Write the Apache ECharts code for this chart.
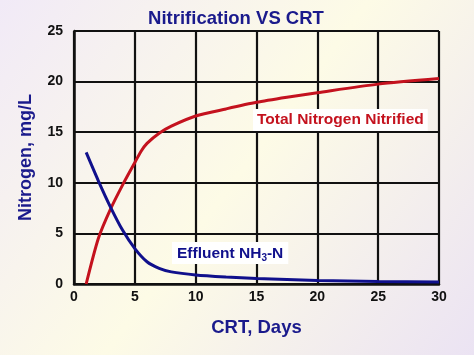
<!DOCTYPE html>
<html><head><meta charset="utf-8">
<script src="https://cdn.jsdelivr.net/npm/echarts@6/dist/echarts.min.js"></script>
<style>html,body{margin:0;padding:0;}#c{width:474px;height:355px;}</style>
</head><body><div id="c"></div>
<script>
const xTicks = [0, 5, 10, 15, 20, 25, 30];
const yTicks = [0, 5, 10, 15, 20, 25];
const crtNitrified = [1, 2, 3, 4, 5, 5.5, 6, 7, 8, 10, 12.5, 15, 17.5, 20, 25, 30];
const totalNitrified = [0, 4.5, 7.4, 9.8, 12.0, 13.1, 13.9, 14.9, 15.6, 16.6, 17.3, 17.95, 18.45, 18.9, 19.75, 20.3];
const crtEffluent = [1, 2, 3, 4, 5, 6, 7, 8, 10, 12.5, 15, 20, 25, 30];
const effluentNH3 = [13.0, 10.2, 7.6, 5.3, 3.5, 2.2, 1.55, 1.2, 0.9, 0.7, 0.55, 0.35, 0.25, 0.2];

const FONT = '"Liberation Sans", Arial, sans-serif';
const RED = '#c4121e';
const BLUE = '#10108c';
const chart = echarts.init(document.getElementById('c'));
chart.setOption({
  animation: false,
  backgroundColor: new echarts.graphic.LinearGradient(0, 0, 1, 1, [
    {offset: 0, color: '#f1eaf7'},
    {offset: 0.5, color: '#fdfbe6'},
    {offset: 1, color: '#ebe3f3'}
  ]),
  textStyle: {fontFamily: FONT},
  title: {
    text: 'Nitrification VS CRT', left: 231, top: 4, textAlign: 'center',
    textStyle: {color: '#1a1a8c', fontSize: 18.5, fontWeight: 'bold', fontFamily: FONT}
  },
  grid: {left: 74, right: 35, top: 31, bottom: 71, containLabel: false},
  xAxis: {
    type: 'value', min: 0, max: 30, interval: 5,
    name: 'CRT, Days', nameLocation: 'middle', nameGap: 34,
    nameTextStyle: {color: '#1a1a8c', fontSize: 18.5, fontWeight: 'bold', fontFamily: FONT},
    axisLine: {show: true, onZero: false, lineStyle: {color: '#111', width: 2.5}},
    axisTick: {show: false},
    axisLabel: {color: '#111', fontSize: 14, fontWeight: 'bold', margin: 6,
      formatter: v => xTicks.includes(v) ? String(v) : ''},
    splitLine: {show: true, lineStyle: {color: '#111', width: 2.2}}
  },
  yAxis: {
    type: 'value', min: 0, max: 25, interval: 5,
    name: 'Nitrogen, mg/L', nameLocation: 'middle', nameGap: 39,
    nameTextStyle: {color: '#1a1a8c', fontSize: 18, fontWeight: 'bold', fontFamily: FONT},
    axisLine: {show: true, lineStyle: {color: '#111', width: 2.5}},
    axisTick: {show: false},
    axisLabel: {color: '#111', fontSize: 14, fontWeight: 'bold', margin: 11,
      formatter: v => yTicks.includes(v) ? String(v) : ''},
    splitLine: {show: true, lineStyle: {color: '#111', width: 2.2}}
  },
  series: [
    {
      type: 'line', smooth: 0.25, symbol: 'none',
      data: crtNitrified.map((x, i) => [x, totalNitrified[i]]),
      lineStyle: {color: RED, width: 3}, z: 3
    },
    {
      type: 'line', smooth: 0.25, symbol: 'none',
      data: crtEffluent.map((x, i) => [x, effluentNH3[i]]),
      lineStyle: {color: BLUE, width: 3}, z: 3
    }
  ],
  graphic: [
    {
      type: 'text', left: 253, top: 109, z: 10,
      style: {
        text: 'Total Nitrogen Nitrified', fill: RED,
        font: 'bold 15.5px ' + FONT,
        backgroundColor: '#ffffff', padding: [3, 4, 3, 4]
      }
    },
    {
      type: 'text', left: 172, top: 242, z: 10,
      style: {
        text: '{a|Effluent NH}{s|3}{a|-N}', fill: BLUE,
        backgroundColor: '#ffffff', padding: [2, 5, 1, 5],
        rich: {
          a: {fill: BLUE, fontWeight: 'bold', fontSize: 15.5, fontFamily: FONT},
          s: {fill: BLUE, fontWeight: 'bold', fontSize: 10, fontFamily: FONT, padding: [9, 0, 0, 0]}
        }
      }
    }
  ]
});
</script></body></html>
